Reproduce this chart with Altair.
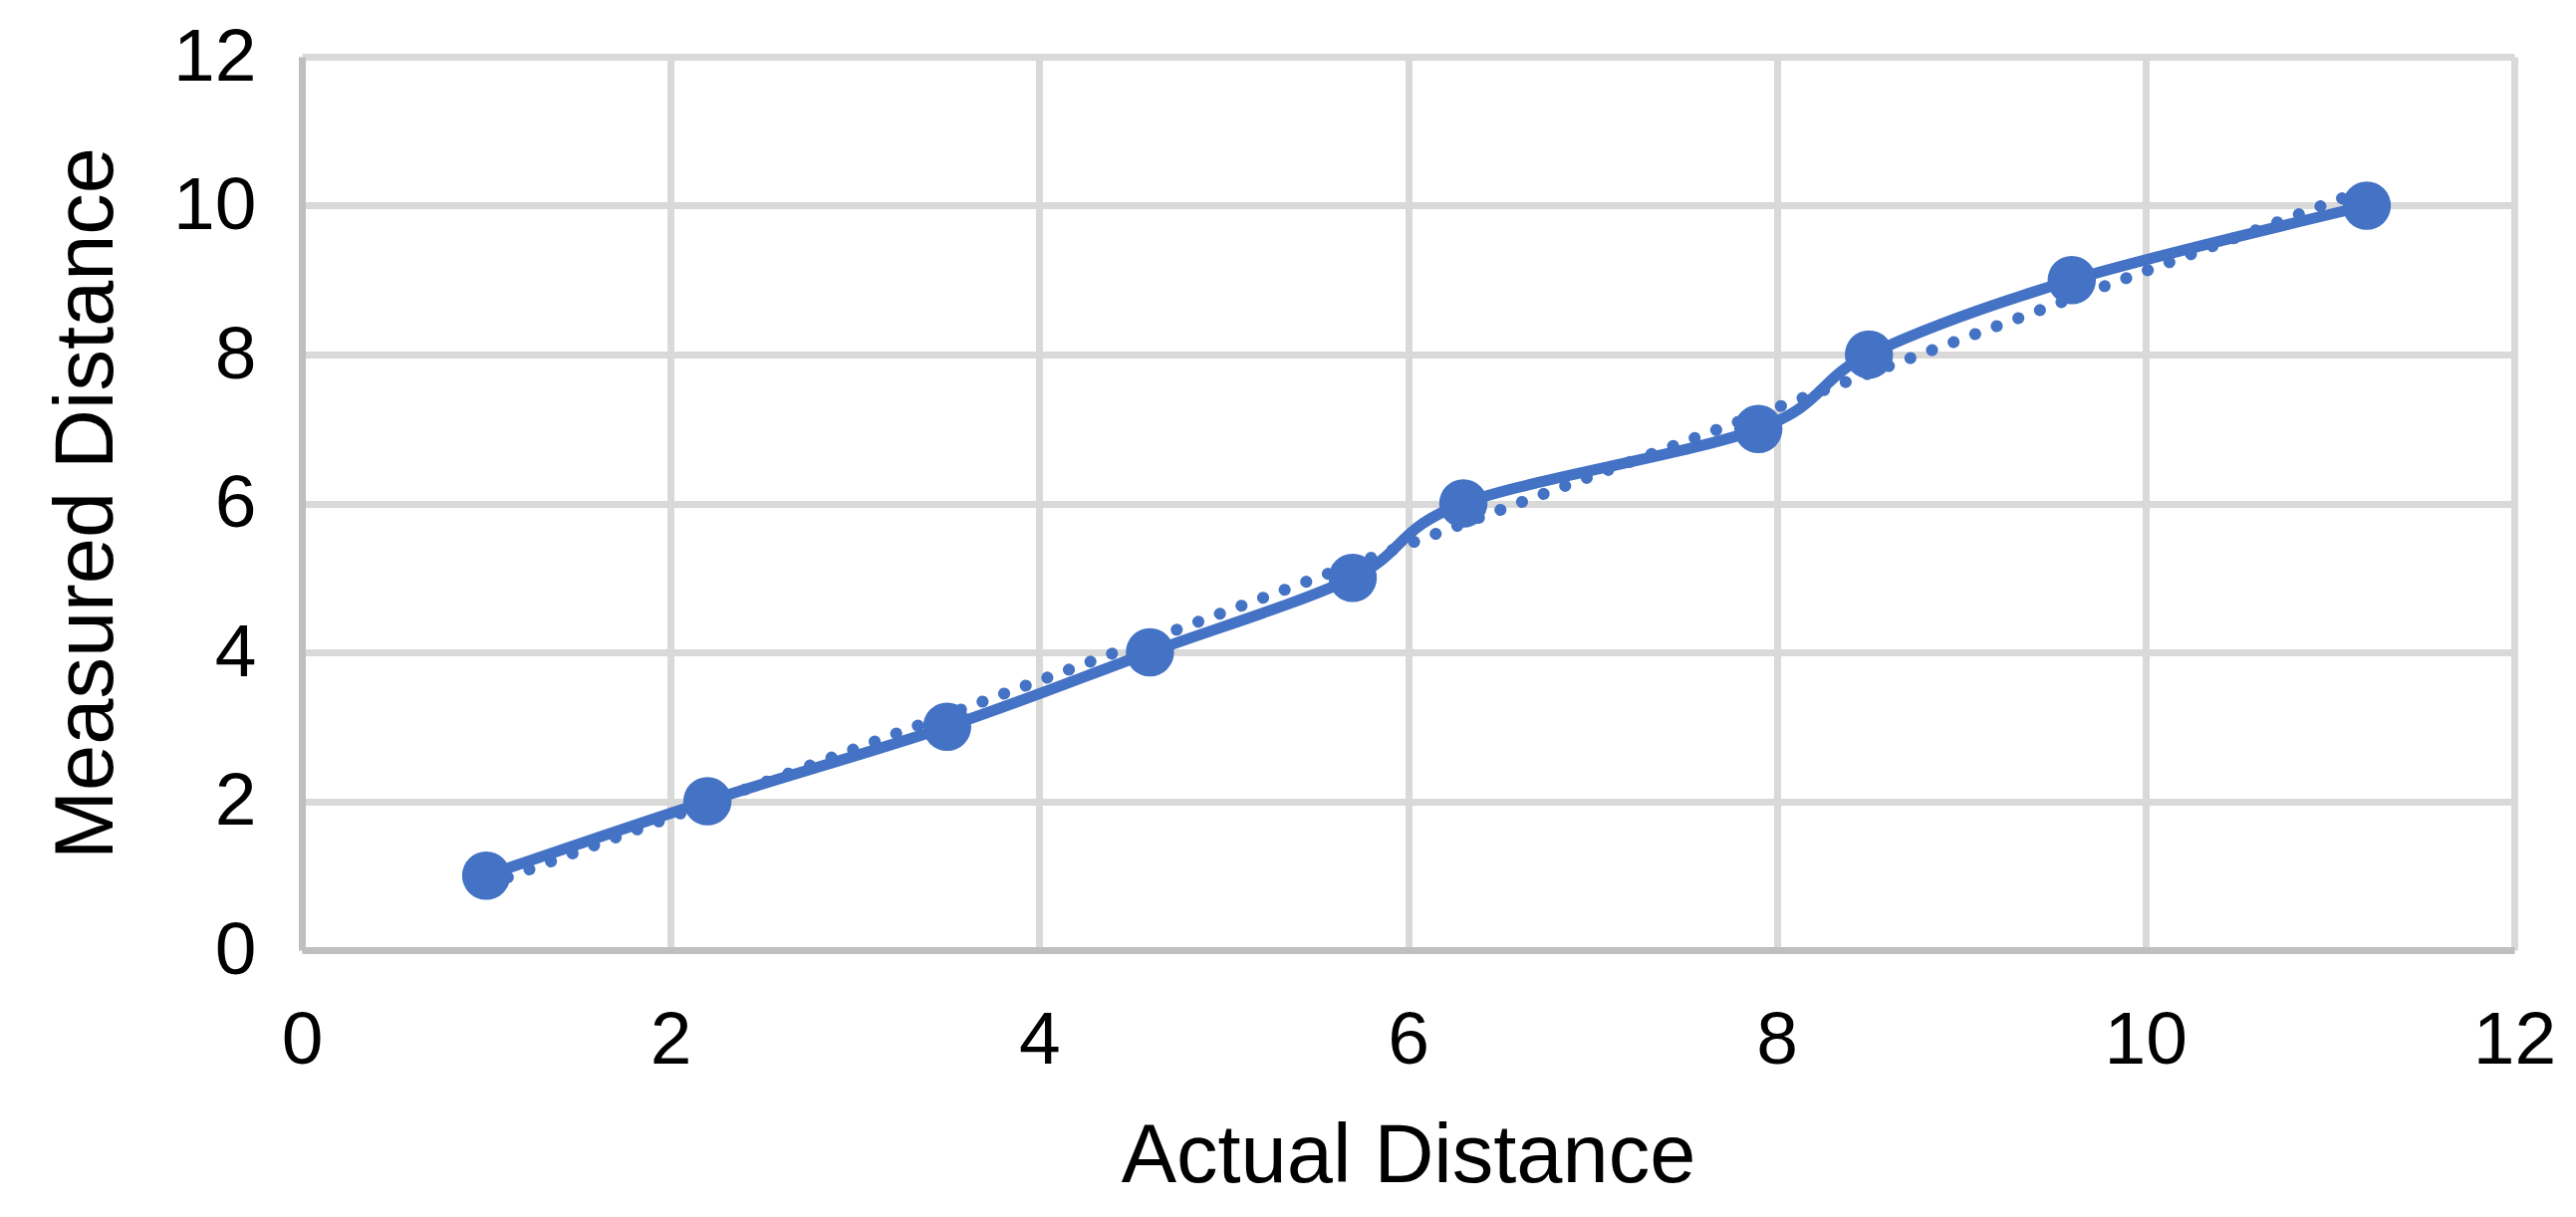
import altair as alt
import pandas as pd

# ---- data ----
actual = [1.0, 2.2, 3.5, 4.6, 5.7, 6.3, 7.9, 8.5, 9.6, 11.2]
measured = [1, 2, 3, 4, 5, 6, 7, 8, 9, 10]
x_ticks = [0, 2, 4, 6, 8, 10, 12]
y_ticks = [0, 2, 4, 6, 8, 10, 12]

df = pd.DataFrame({"actual": actual, "measured": measured})

BLUE = "#4472C4"
FONT = "Liberation Sans"
GRID = "#D9D9D9"
AXIS = "#BFBFBF"

x_axis = alt.Axis(
    values=x_ticks, title="Actual Distance", grid=True, gridColor=GRID, gridWidth=7,
    domain=True, domainColor=AXIS, domainWidth=7, ticks=False, tickSize=0,
    labelFont=FONT, labelFontSize=75, labelColor="black", labelPadding=113,
    labelBaseline="alphabetic", labelFlush=False, labelOverlap=False,
    titleFont=FONT, titleFontSize=83, titleFontWeight="normal", titleColor="black",
    titleBaseline="alphabetic", titleY=232,
)
y_axis = alt.Axis(
    values=y_ticks, title="Measured Distance", grid=True, gridColor=GRID, gridWidth=7,
    domain=True, domainColor=AXIS, domainWidth=7, ticks=False, tickSize=0,
    labelFont=FONT, labelFontSize=75, labelColor="black", labelPadding=46,
    labelFlush=False, labelOverlap=False,
    titleFont=FONT, titleFontSize=83, titleFontWeight="normal", titleColor="black",
    titleBaseline="alphabetic", titleX=-191, titleY=448,
)

x_enc = alt.X("actual:Q", scale=alt.Scale(domain=[0, 12], nice=False), axis=x_axis)
y_enc = alt.Y("measured:Q", scale=alt.Scale(domain=[0, 12], nice=False), axis=y_axis)

base = alt.Chart(df)

smooth = base.mark_line(color=BLUE, strokeWidth=11, interpolate="cardinal",
                        strokeCap="round", strokeJoin="round").encode(x=x_enc, y=y_enc)

trend = base.transform_regression("actual", "measured").mark_line(
    color=BLUE, strokeWidth=12, strokeDash=[0.1, 23], strokeCap="round"
).encode(x=x_enc, y=y_enc)

points = base.mark_point(filled=True, shape="circle", size=2350, color=BLUE, opacity=1).encode(
    x=x_enc, y=y_enc
)

chart = alt.layer(smooth, trend, points).properties(
    width=2221,
    height=897,
    autosize=alt.AutoSizeParams(type="none"),
    padding={"left": 295, "top": 49, "right": 54, "bottom": 260},
    background="white",
).configure_view(stroke=None)

chart.save("out.html", embed_options={"renderer": "svg", "actions": False})
